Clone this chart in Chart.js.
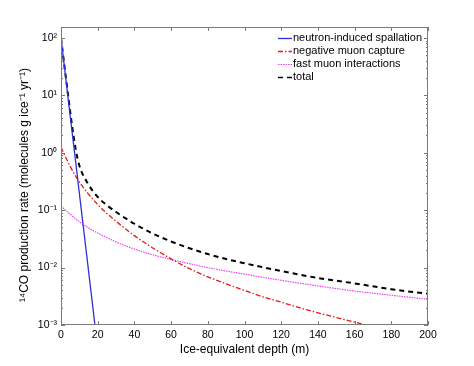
<!DOCTYPE html>
<html>
<head>
<meta charset="utf-8">
<script src="https://cdn.jsdelivr.net/npm/chart.js@4/dist/chart.umd.min.js"></script>
<style>
  body { margin: 0; background: #fff; }
  canvas { display: block; }
</style>
</head>
<body>
<canvas id="prodChart" width="474" height="366"></canvas>
<script>
// depths (m) and production rates
const spallDepth = [0, 18.5];
const spallRate = [100, 0.001];

const negMuDepth = [0, 5, 10, 15, 20, 30, 40, 50, 60, 70, 80, 90, 100, 110, 120, 130, 140, 150, 160, 170, 180];
const negMuRate = [1.25, 0.58, 0.31, 0.19, 0.125, 0.064, 0.036, 0.022, 0.0142, 0.0096, 0.0069, 0.0052, 0.0040,
  0.0031, 0.0025, 0.0020, 0.00163, 0.00135, 0.00112, 0.00094, 0.00079];

const fastMuDepth = [0, 5, 10, 15, 20, 30, 40, 50, 60, 70, 80, 90, 100, 120, 140, 160, 180, 200];
const fastMuRate = [0.118, 0.085, 0.063, 0.049, 0.040, 0.028, 0.021, 0.0167, 0.0138, 0.0117, 0.0100, 0.0087,
  0.0077, 0.0060, 0.0048, 0.0039, 0.0033, 0.0028];

const totalDepth = [0, 1, 2, 4, 6, 8, 10, 15, 20, 25, 30, 40, 50, 60, 70, 80, 90, 100, 120, 140, 160, 180, 200];
const totalRate = [101, 55, 30, 9.3, 3.0, 1.15, 0.60, 0.28, 0.17, 0.122, 0.093, 0.058, 0.0392, 0.0285, 0.0217,
  0.0172, 0.0141, 0.0119, 0.0087, 0.0066, 0.0053, 0.0042, 0.0035];

const seriesNames = ['neutron-induced spallation', 'negative muon capture', 'fast muon interactions', 'total'];
const xTicks = [0, 20, 40, 60, 80, 100, 120, 140, 160, 180, 200];
const yExponents = [-3, -2, -1, 0, 1, 2];

const FONT = "'Liberation Sans', Arial, sans-serif";
const SUP = { '-': '⁻', '0': '⁰', '1': '¹', '2': '²', '3': '³', '4': '⁴', '5': '⁵', '6': '⁶', '7': '⁷', '8': '⁸', '9': '⁹' };
function sup(s) {
  return String(s).split('').map(c => SUP[c] || c).join('');
}

function toPoints(xs, ys) {
  return xs.map((x, i) => ({ x: x, y: ys[i] }));
}

// MATLAB style box, inward ticks, y label and legend
const axesDecor = {
  id: 'axesDecor',
  afterDraw(chart) {
    const ctx = chart.ctx;
    const a = chart.chartArea;
    const xs = chart.scales.x;
    const ys = chart.scales.y;
    ctx.save();
    ctx.strokeStyle = '#7a7a7a';
    ctx.lineWidth = 1;
    ctx.strokeRect(a.left + 0.5, a.top + 0.5, a.right - a.left - 1, a.bottom - a.top - 1);

    ctx.beginPath();
    xTicks.forEach(v => {
      const px = Math.round(xs.getPixelForValue(v)) + 0.5;
      ctx.moveTo(px, a.bottom); ctx.lineTo(px, a.bottom - 4);
      ctx.moveTo(px, a.top); ctx.lineTo(px, a.top + 4);
    });
    yExponents.forEach(e => {
      for (let m = 1; m <= 9; m++) {
        const v = m * Math.pow(10, e);
        if (v > ys.max || v < ys.min) continue;
        const py = Math.round(ys.getPixelForValue(v)) + 0.5;
        const len = m === 1 ? 4 : 2;
        ctx.moveTo(a.left, py); ctx.lineTo(a.left + len, py);
        ctx.moveTo(a.right, py); ctx.lineTo(a.right - len, py);
      }
    });
    ctx.stroke();

    // y axis label
    ctx.fillStyle = '#000';
    ctx.font = '12px ' + FONT;
    ctx.textAlign = 'center';
    ctx.textBaseline = 'middle';
    ctx.translate(25, 185);
    ctx.rotate(-Math.PI / 2);
    ctx.fillText(sup(14) + 'CO production rate (molecules g ice' + sup(-1) + ' yr' + sup(-1) + ')', 0, 0);
    ctx.restore();

    // legend
    ctx.save();
    ctx.font = '11px ' + FONT;
    ctx.textBaseline = 'middle';
    ctx.textAlign = 'left';
    const rows = [38, 51, 64, 77];
    chart.data.datasets.forEach((ds, i) => {
      const y = rows[i] + 0.5;
      ctx.strokeStyle = ds.borderColor;
      ctx.lineWidth = i === 3 ? 1.5 : ds.borderWidth;
      ctx.setLineDash(ds.borderDash || []);
      ctx.beginPath();
      ctx.moveTo(278, y); ctx.lineTo(292, y);
      ctx.stroke();
      ctx.setLineDash([]);
      ctx.fillStyle = '#000';
      ctx.fillText(ds.label, 293, rows[i]);
    });
    ctx.restore();
  }
};

const ctx = document.getElementById('prodChart').getContext('2d');
new Chart(ctx, {
  type: 'line',
  data: {
    datasets: [
      {
        label: seriesNames[0],
        data: toPoints(spallDepth, spallRate),
        borderColor: '#2f2fd8',
        borderWidth: 1.3
      },
      {
        label: seriesNames[1],
        data: toPoints(negMuDepth, negMuRate),
        borderColor: '#e81818',
        borderWidth: 1.3,
        borderDash: [5, 2, 1.5, 2],
        cubicInterpolationMode: 'monotone'
      },
      {
        label: seriesNames[2],
        data: toPoints(fastMuDepth, fastMuRate),
        borderColor: '#f040f0',
        borderWidth: 1.2,
        borderDash: [1.5, 1],
        cubicInterpolationMode: 'monotone'
      },
      {
        label: seriesNames[3],
        data: toPoints(totalDepth, totalRate),
        borderColor: '#000000',
        borderWidth: 2,
        borderDash: [5, 4],
        cubicInterpolationMode: 'monotone'
      }
    ]
  },
  options: {
    responsive: false,
    animation: false,
    layout: { padding: { top: 27, right: 46, left: 0, bottom: 0 } },
    elements: { point: { radius: 0 } },
    plugins: {
      legend: { display: false },
      tooltip: { enabled: false }
    },
    scales: {
      x: {
        type: 'linear',
        min: 0,
        max: 200,
        grid: { display: false, drawTicks: false },
        border: { display: false },
        afterBuildTicks: s => { s.ticks = xTicks.map(v => ({ value: v })); },
        afterFit: s => { s.height = 41; },
        ticks: { padding: 4, color: '#000', font: { family: FONT, size: 10.5 }, maxRotation: 0 },
        title: {
          display: true,
          text: 'Ice-equivalent depth (m)',
          color: '#000',
          font: { family: FONT, size: 12 },
          padding: { top: 0, bottom: 9 }
        }
      },
      y: {
        type: 'logarithmic',
        min: 0.001,
        max: 155,
        grid: { display: false, drawTicks: false },
        border: { display: false },
        afterBuildTicks: s => { s.ticks = yExponents.map(e => ({ value: Math.pow(10, e), major: true })); },
        afterFit: s => { s.width = 61; },
        ticks: {
          padding: 4,
          color: '#000',
          font: { family: FONT, size: 10.5 },
          callback: v => '10' + sup(Math.round(Math.log10(v)))
        }
      }
    }
  },
  plugins: [axesDecor]
});
</script>
</body>
</html>
